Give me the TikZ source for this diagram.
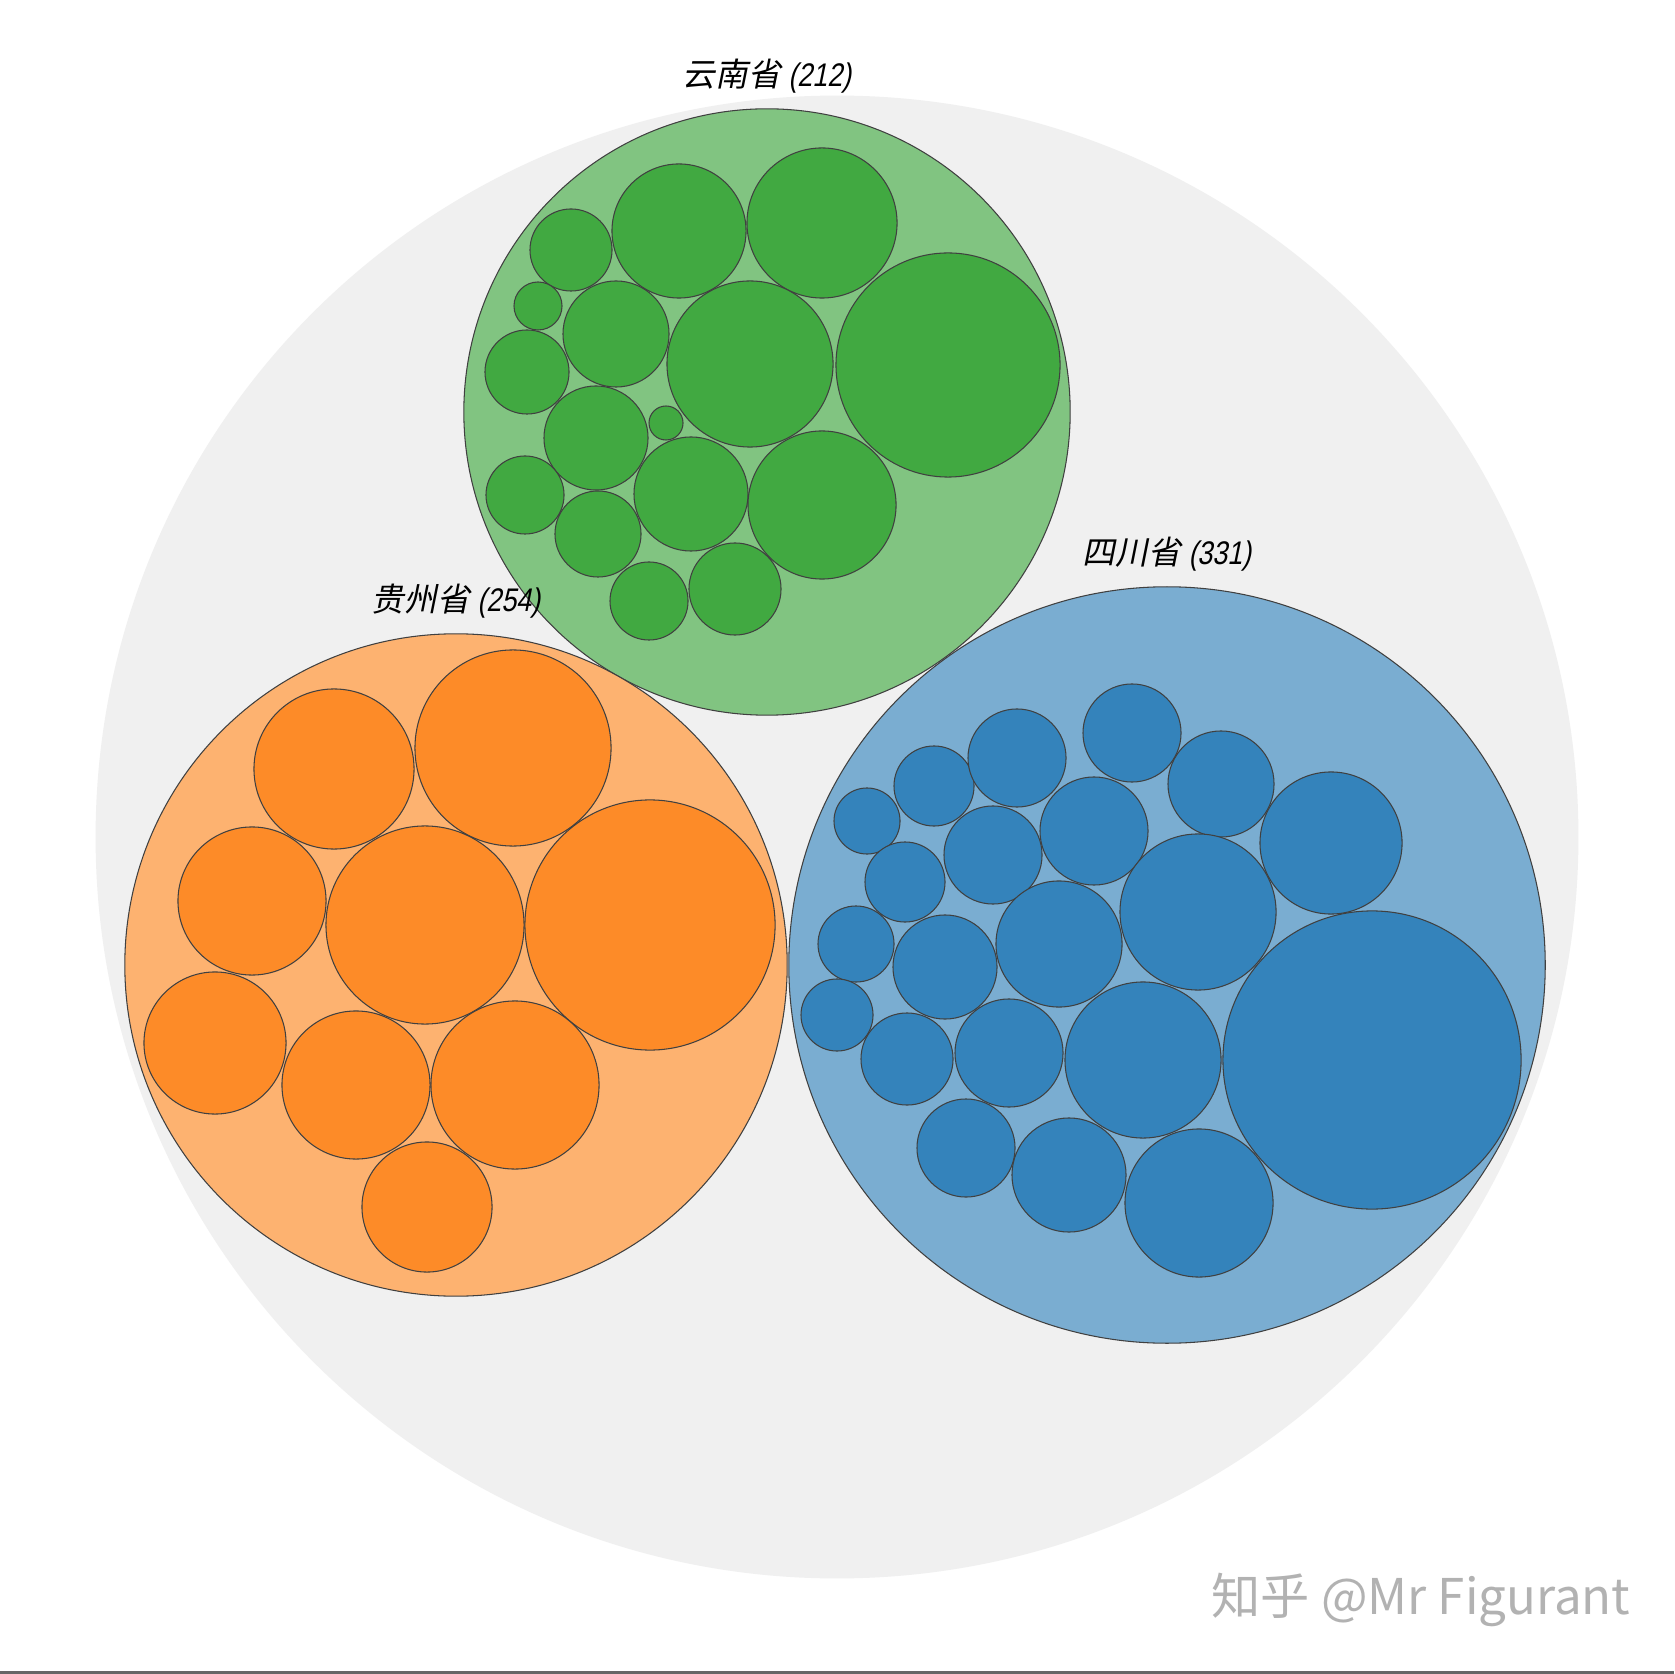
\documentclass[tikz,border=0pt]{standalone}
\usepackage{fontspec}
\setmainfont{Liberation Sans}[FakeSlant=0.2,FakeStretch=0.82]
\newfontfamily\cjk{Noto Sans CJK SC}[FakeSlant=0.2]
\newfontfamily\wmfont{Noto Sans CJK SC}
\usetikzlibrary{positioning}
\definecolor{bggray}{RGB}{240,240,240}
\definecolor{ynback}{RGB}{129,196,129}
\definecolor{ynleaf}{RGB}{65,169,65}
\definecolor{gzback}{RGB}{253,178,112}
\definecolor{gzleaf}{RGB}{253,139,40}
\definecolor{scback}{RGB}{122,173,209}
\definecolor{scleaf}{RGB}{52,131,187}
\definecolor{wmgray}{RGB}{178,178,178}
\begin{document}
\begin{tikzpicture}[x=0.01cm, y=-0.01cm,
    group/.style={circle, inner sep=0pt, draw=black!75, line width=0.3pt},
    leaf/.style={draw=black!75, line width=0.3pt},
    provlabel/.style={inner sep=0pt, font=\fontsize{9.3}{11}\selectfont}]
  \useasboundingbox (0,0) rectangle (1674,1674);
  \fill[white] (0,0) rectangle (1674,1674);
  \fill[bggray] (837,837) circle (7.41cm);
  \fill[black!60] (0,1671) rectangle (1674,1674);

  \node[group, fill=ynback, minimum size=6.06cm] (yn) at (767,412) {};
  \node[provlabel, above=0.14cm of yn] (ynlabel) {{\cjk 云南省} (212)};
  \filldraw[leaf, fill=ynleaf] (822,223) circle (0.75cm);
  \filldraw[leaf, fill=ynleaf] (679,231) circle (0.67cm);
  \filldraw[leaf, fill=ynleaf] (571,250) circle (0.41cm);
  \filldraw[leaf, fill=ynleaf] (538,306) circle (0.24cm);
  \filldraw[leaf, fill=ynleaf] (616,334) circle (0.53cm);
  \filldraw[leaf, fill=ynleaf] (750,364) circle (0.83cm);
  \filldraw[leaf, fill=ynleaf] (948,365) circle (1.12cm);
  \filldraw[leaf, fill=ynleaf] (527,372) circle (0.42cm);
  \filldraw[leaf, fill=ynleaf] (596,438) circle (0.52cm);
  \filldraw[leaf, fill=ynleaf] (666,423) circle (0.17cm);
  \filldraw[leaf, fill=ynleaf] (525,495) circle (0.39cm);
  \filldraw[leaf, fill=ynleaf] (691,494) circle (0.57cm);
  \filldraw[leaf, fill=ynleaf] (822,505) circle (0.74cm);
  \filldraw[leaf, fill=ynleaf] (598,534) circle (0.43cm);
  \filldraw[leaf, fill=ynleaf] (649,601) circle (0.39cm);
  \filldraw[leaf, fill=ynleaf] (735,589) circle (0.46cm);

  \node[group, fill=gzback, minimum size=6.62cm] (gz) at (456,965) {};
  \node[provlabel, above=0.14cm of gz] (gzlabel) {{\cjk 贵州省} (254)};
  \filldraw[leaf, fill=gzleaf] (334,769) circle (0.80cm);
  \filldraw[leaf, fill=gzleaf] (513,748) circle (0.98cm);
  \filldraw[leaf, fill=gzleaf] (252,901) circle (0.74cm);
  \filldraw[leaf, fill=gzleaf] (425,925) circle (0.99cm);
  \filldraw[leaf, fill=gzleaf] (650,925) circle (1.25cm);
  \filldraw[leaf, fill=gzleaf] (215,1043) circle (0.71cm);
  \filldraw[leaf, fill=gzleaf] (356,1085) circle (0.74cm);
  \filldraw[leaf, fill=gzleaf] (515,1085) circle (0.84cm);
  \filldraw[leaf, fill=gzleaf] (427,1207) circle (0.65cm);

  \node[group, fill=scback, minimum size=7.56cm] (sc) at (1167,965) {};
  \node[provlabel, above=0.14cm of sc] (sclabel) {{\cjk 四川省} (331)};
  \filldraw[leaf, fill=scleaf] (867,821) circle (0.33cm);
  \filldraw[leaf, fill=scleaf] (934,786) circle (0.40cm);
  \filldraw[leaf, fill=scleaf] (1017,758) circle (0.49cm);
  \filldraw[leaf, fill=scleaf] (1132,733) circle (0.49cm);
  \filldraw[leaf, fill=scleaf] (1221,784) circle (0.53cm);
  \filldraw[leaf, fill=scleaf] (1331,843) circle (0.71cm);
  \filldraw[leaf, fill=scleaf] (905,882) circle (0.40cm);
  \filldraw[leaf, fill=scleaf] (993,855) circle (0.49cm);
  \filldraw[leaf, fill=scleaf] (1094,831) circle (0.54cm);
  \filldraw[leaf, fill=scleaf] (1198,912) circle (0.78cm);
  \filldraw[leaf, fill=scleaf] (1372,1060) circle (1.49cm);
  \filldraw[leaf, fill=scleaf] (856,944) circle (0.38cm);
  \filldraw[leaf, fill=scleaf] (945,967) circle (0.52cm);
  \filldraw[leaf, fill=scleaf] (1059,944) circle (0.63cm);
  \filldraw[leaf, fill=scleaf] (837,1015) circle (0.36cm);
  \filldraw[leaf, fill=scleaf] (907,1059) circle (0.46cm);
  \filldraw[leaf, fill=scleaf] (1009,1053) circle (0.54cm);
  \filldraw[leaf, fill=scleaf] (1143,1060) circle (0.78cm);
  \filldraw[leaf, fill=scleaf] (966,1148) circle (0.49cm);
  \filldraw[leaf, fill=scleaf] (1069,1175) circle (0.57cm);
  \filldraw[leaf, fill=scleaf] (1199,1203) circle (0.74cm);

  \node[font=\wmfont\fontsize{14}{16}\selectfont, text=wmgray, inner sep=0pt] (mark) at (1421,1600) {知乎 @Mr Figurant};
\end{tikzpicture}
\end{document}
